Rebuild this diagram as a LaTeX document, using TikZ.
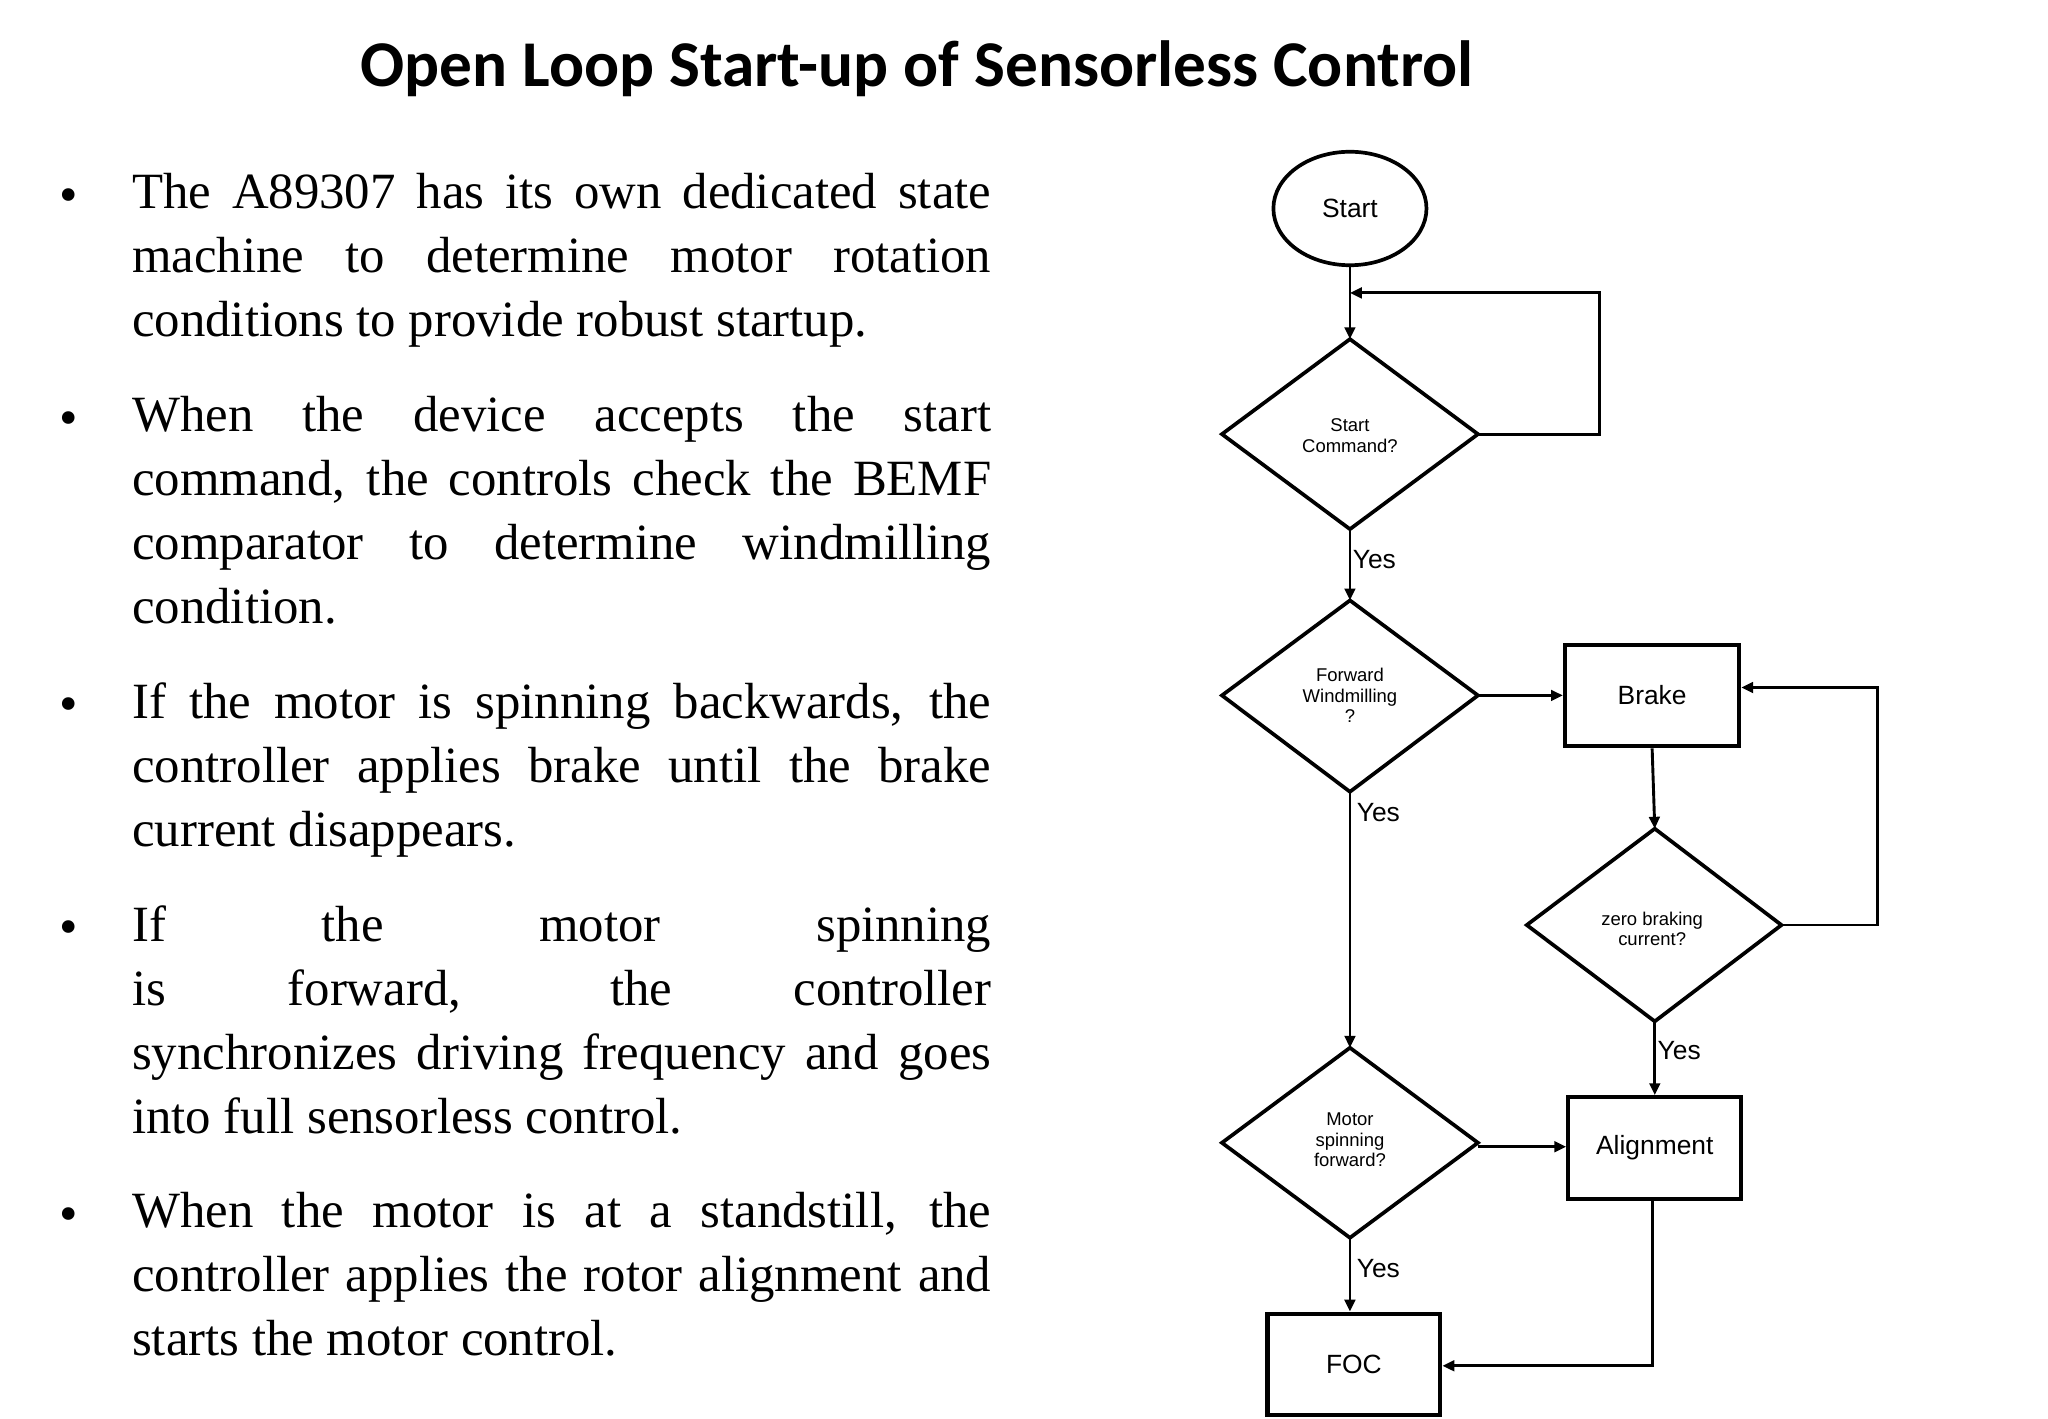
\documentclass[tikz,border=0pt]{standalone}
\usepackage{fontspec}
\setmainfont{Liberation Serif}
\newfontfamily\ttl{Carlito}
\newfontfamily\fc{Liberation Sans}
\usetikzlibrary{shapes.geometric,arrows.meta}
\begin{document}
\begin{tikzpicture}[x=1pt,y=-1pt,
 box/.style={draw,line width=3.2pt,font=\fc\fontsize{20}{22}\selectfont,inner sep=0pt},
 dia/.style={draw,line width=2.8pt},
 dtxt/.style={font=\fc\fontsize{14}{15.5}\selectfont,align=center},
 con/.style={line width=2.2pt,-{Triangle[length=9pt,width=8pt]}},
 yes/.style={font=\fc\fontsize{20}{22}\selectfont,anchor=west,inner sep=1pt},
 bul/.style={anchor=north west,text width=651pt,inner sep=0pt,
   font=\fontsize{38.5}{48.5}\selectfont,
   execute at begin node={\hyphenpenalty=10000\exhyphenpenalty=10000\leftskip=0pt\rightskip=0pt\parfillskip=0pt plus 1fil\tolerance=9999\emergencystretch=300pt\spaceskip=0.25em plus 3em minus 0.05em}},
 dot/.style={font=\fontsize{40}{40}\selectfont}]
\useasboundingbox (0,0) rectangle (1552,1075);
\fill[white] (0,0) rectangle (1552,1075);
\node[font=\ttl\bfseries\fontsize{49.5}{54}\selectfont] (title) at (695,52) {Open Loop Start-up of Sensorless Control};
% bullets
\foreach \y [count=\i] in {155,324,541,710,927} \node[dot] (d\i) at (52,\y-3) {•};
\node[bul] (b1) at (100,131) {The A89307 has its own dedicated state machine to determine motor rotation conditions to provide robust startup.};
\node[bul] (b2) at (100,300) {When the device accepts the start command, the controls check the BEMF comparator to determine windmilling condition.};
\node[bul] (b3) at (100,517) {If the motor is spinning backwards, the controller applies brake until the brake current disappears.};
\node[bul] (b4) at (100,686) {If the motor spinning is forward, the controller\linebreak synchronizes driving frequency and goes into full sensorless control.};
\node[bul] (b5) at (100,903) {When the motor is at a standstill, the controller applies the rotor alignment and starts the motor control.};
% flowchart
\draw[dia] (1023,158) ellipse (58 and 43);
\node[font=\fc\fontsize{20}{22}\selectfont] (start) at (1023,158) {Start};
\coordinate (st) at (1023,201);
% diamond 1
\draw[dia] (1023,257)--(1120,329)--(1023,401)--(926,329)--cycle;
\node[dtxt] (q1) at (1023,330) {Start\\Command?};
\coordinate (q1t) at (1023,257); \coordinate (q1r) at (1120,329); \coordinate (q1b) at (1023,401);
\coordinate (lp) at (1023,222);
\draw[con] (st)--(q1t);
\draw[con] (q1r)--(1212,329)--(1212,222)--(lp);
% diamond 2
\draw[dia] (1023,455)--(1120,527)--(1023,600)--(926,527)--cycle;
\node[dtxt] (q2) at (1023,527) {Forward\\Windmilling\\?};
\coordinate (q2t) at (1023,455); \coordinate (q2r) at (1120,527); \coordinate (q2b) at (1023,600);
\draw[con] (q1b)--(q2t);
\node[yes] (y1) at (1024,424) {Yes};
% Brake
\node[box,minimum width=132pt,minimum height=77pt] (brake) at (1252,527) {Brake};
\draw[con] (q2r)--(brake.west);
% diamond 3
\draw[dia] (1254,628)--(1350,701)--(1254,774)--(1157,701)--cycle;
\node[dtxt] (q3) at (1252,704) {zero braking\\current?};
\coordinate (q3t) at (1254,628); \coordinate (q3r) at (1350,701); \coordinate (q3b) at (1254,774);
\draw[con] (brake.south)--(q3t);
\draw[con] (q3r)--(1423,701)--(1423,521)--(brake.east|-1,521);
\node[yes] (y3) at (1255,796) {Yes};
% Alignment
\node[box,minimum width=131pt,minimum height=77pt] (align) at (1254,870) {Alignment};
\draw[con] (q3b)--(align.north);
% diamond 4
\draw[dia] (1023,794)--(1120,866)--(1023,938)--(926,866)--cycle;
\node[dtxt] (q4) at (1023,864) {Motor\\spinning\\forward?};
\coordinate (q4t) at (1023,794); \coordinate (q4r) at (1120,869); \coordinate (q4b) at (1023,938);
\draw[con] (q2b)--(q4t);
\node[yes] (y2) at (1027,616) {Yes};
\draw[con] (q4r)--(align.west|-1,869);
% FOC
\node[box,minimum width=131pt,minimum height=77pt] (foc) at (1026,1034) {FOC};
\draw[con] (q4b)--(foc.north-|q4b);
\node[yes] (y4) at (1027,961) {Yes};
\draw[con] (align.south-|1252,1)--(1252,1035)--(foc.east|-1,1035);
\end{tikzpicture}
\end{document}
